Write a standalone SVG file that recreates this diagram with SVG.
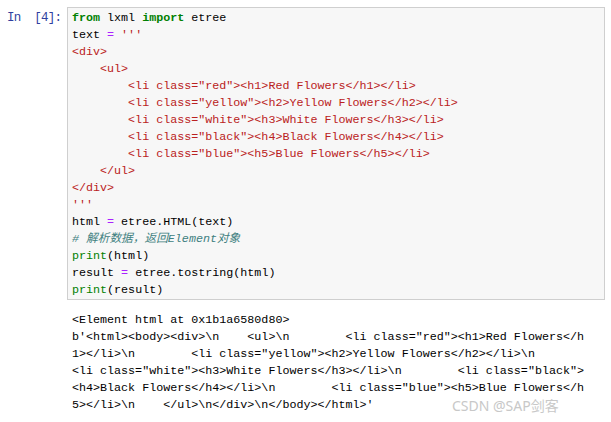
<svg xmlns="http://www.w3.org/2000/svg" width="611" height="422" viewBox="0 0 611 422">
<style>
text{font-family:"Liberation Mono","Noto Sans CJK SC",monospace;font-size:11.7px;white-space:pre;fill:#000}
.k{fill:#008000;font-weight:bold}
.b{fill:#008000}
.s{fill:#ba2121}
.o{fill:#aa22ff}
.c{fill:#408080;font-style:italic}
.p{fill:#303f9f;font-size:12.5px}
</style>
<rect width="611" height="422" fill="#fff"/>
<g id="prompt"><text class="p" x="7" y="21" textLength="55" xml:space="preserve">In  [4]:</text></g>
<g id="cell">
<rect x="67.5" y="7.5" width="537" height="292" fill="#f7f7f7" stroke="#cfcfcf"/>
<g xml:space="preserve">
<text x="72" y="21"><tspan class="k">from</tspan> lxml <tspan class="k">import</tspan> etree</text>
<text x="72" y="38">text <tspan class="o">=</tspan> <tspan class="s">'''</tspan></text>
<text class="s" x="72" y="55">&lt;div&gt;</text>
<text class="s" x="72" y="72">    &lt;ul&gt;</text>
<text class="s" x="72" y="89">        &lt;li class="red"&gt;&lt;h1&gt;Red Flowers&lt;/h1&gt;&lt;/li&gt;</text>
<text class="s" x="72" y="106">        &lt;li class="yellow"&gt;&lt;h2&gt;Yellow Flowers&lt;/h2&gt;&lt;/li&gt;</text>
<text class="s" x="72" y="123">        &lt;li class="white"&gt;&lt;h3&gt;White Flowers&lt;/h3&gt;&lt;/li&gt;</text>
<text class="s" x="72" y="140">        &lt;li class="black"&gt;&lt;h4&gt;Black Flowers&lt;/h4&gt;&lt;/li&gt;</text>
<text class="s" x="72" y="157">        &lt;li class="blue"&gt;&lt;h5&gt;Blue Flowers&lt;/h5&gt;&lt;/li&gt;</text>
<text class="s" x="72" y="174">    &lt;/ul&gt;</text>
<text class="s" x="72" y="191">&lt;/div&gt;</text>
<text class="s" x="72" y="208">'''</text>
<text x="72" y="225">html <tspan class="o">=</tspan> etree.HTML(text)</text>
<text class="c" x="72" y="242"># 解析数据，返回Element对象</text>
<text x="72" y="259"><tspan class="b">print</tspan>(html)</text>
<text x="72" y="276">result <tspan class="o">=</tspan> etree.tostring(html)</text>
<text x="72" y="293"><tspan class="b">print</tspan>(result)</text>
</g>
</g>
<g id="output" xml:space="preserve">
<text x="72" y="323">&lt;Element html at 0x1b1a6580d80&gt;</text>
<text x="72" y="340">b'&lt;html&gt;&lt;body&gt;&lt;div&gt;\n    &lt;ul&gt;\n        &lt;li class="red"&gt;&lt;h1&gt;Red Flowers&lt;/h</text>
<text x="72" y="357">1&gt;&lt;/li&gt;\n        &lt;li class="yellow"&gt;&lt;h2&gt;Yellow Flowers&lt;/h2&gt;&lt;/li&gt;\n</text>
<text x="72" y="374">&lt;li class="white"&gt;&lt;h3&gt;White Flowers&lt;/h3&gt;&lt;/li&gt;\n        &lt;li class="black"&gt;</text>
<text x="72" y="391">&lt;h4&gt;Black Flowers&lt;/h4&gt;&lt;/li&gt;\n        &lt;li class="blue"&gt;&lt;h5&gt;Blue Flowers&lt;/h</text>
<text x="72" y="408">5&gt;&lt;/li&gt;\n    &lt;/ul&gt;\n&lt;/div&gt;\n&lt;/body&gt;&lt;/html&gt;'</text>
</g>
<text x="452" y="411" style="font-family:'Noto Sans','Noto Sans CJK SC',sans-serif;font-size:14px;fill:#c8c8c8">CSDN @SAP剑客</text>
</svg>
